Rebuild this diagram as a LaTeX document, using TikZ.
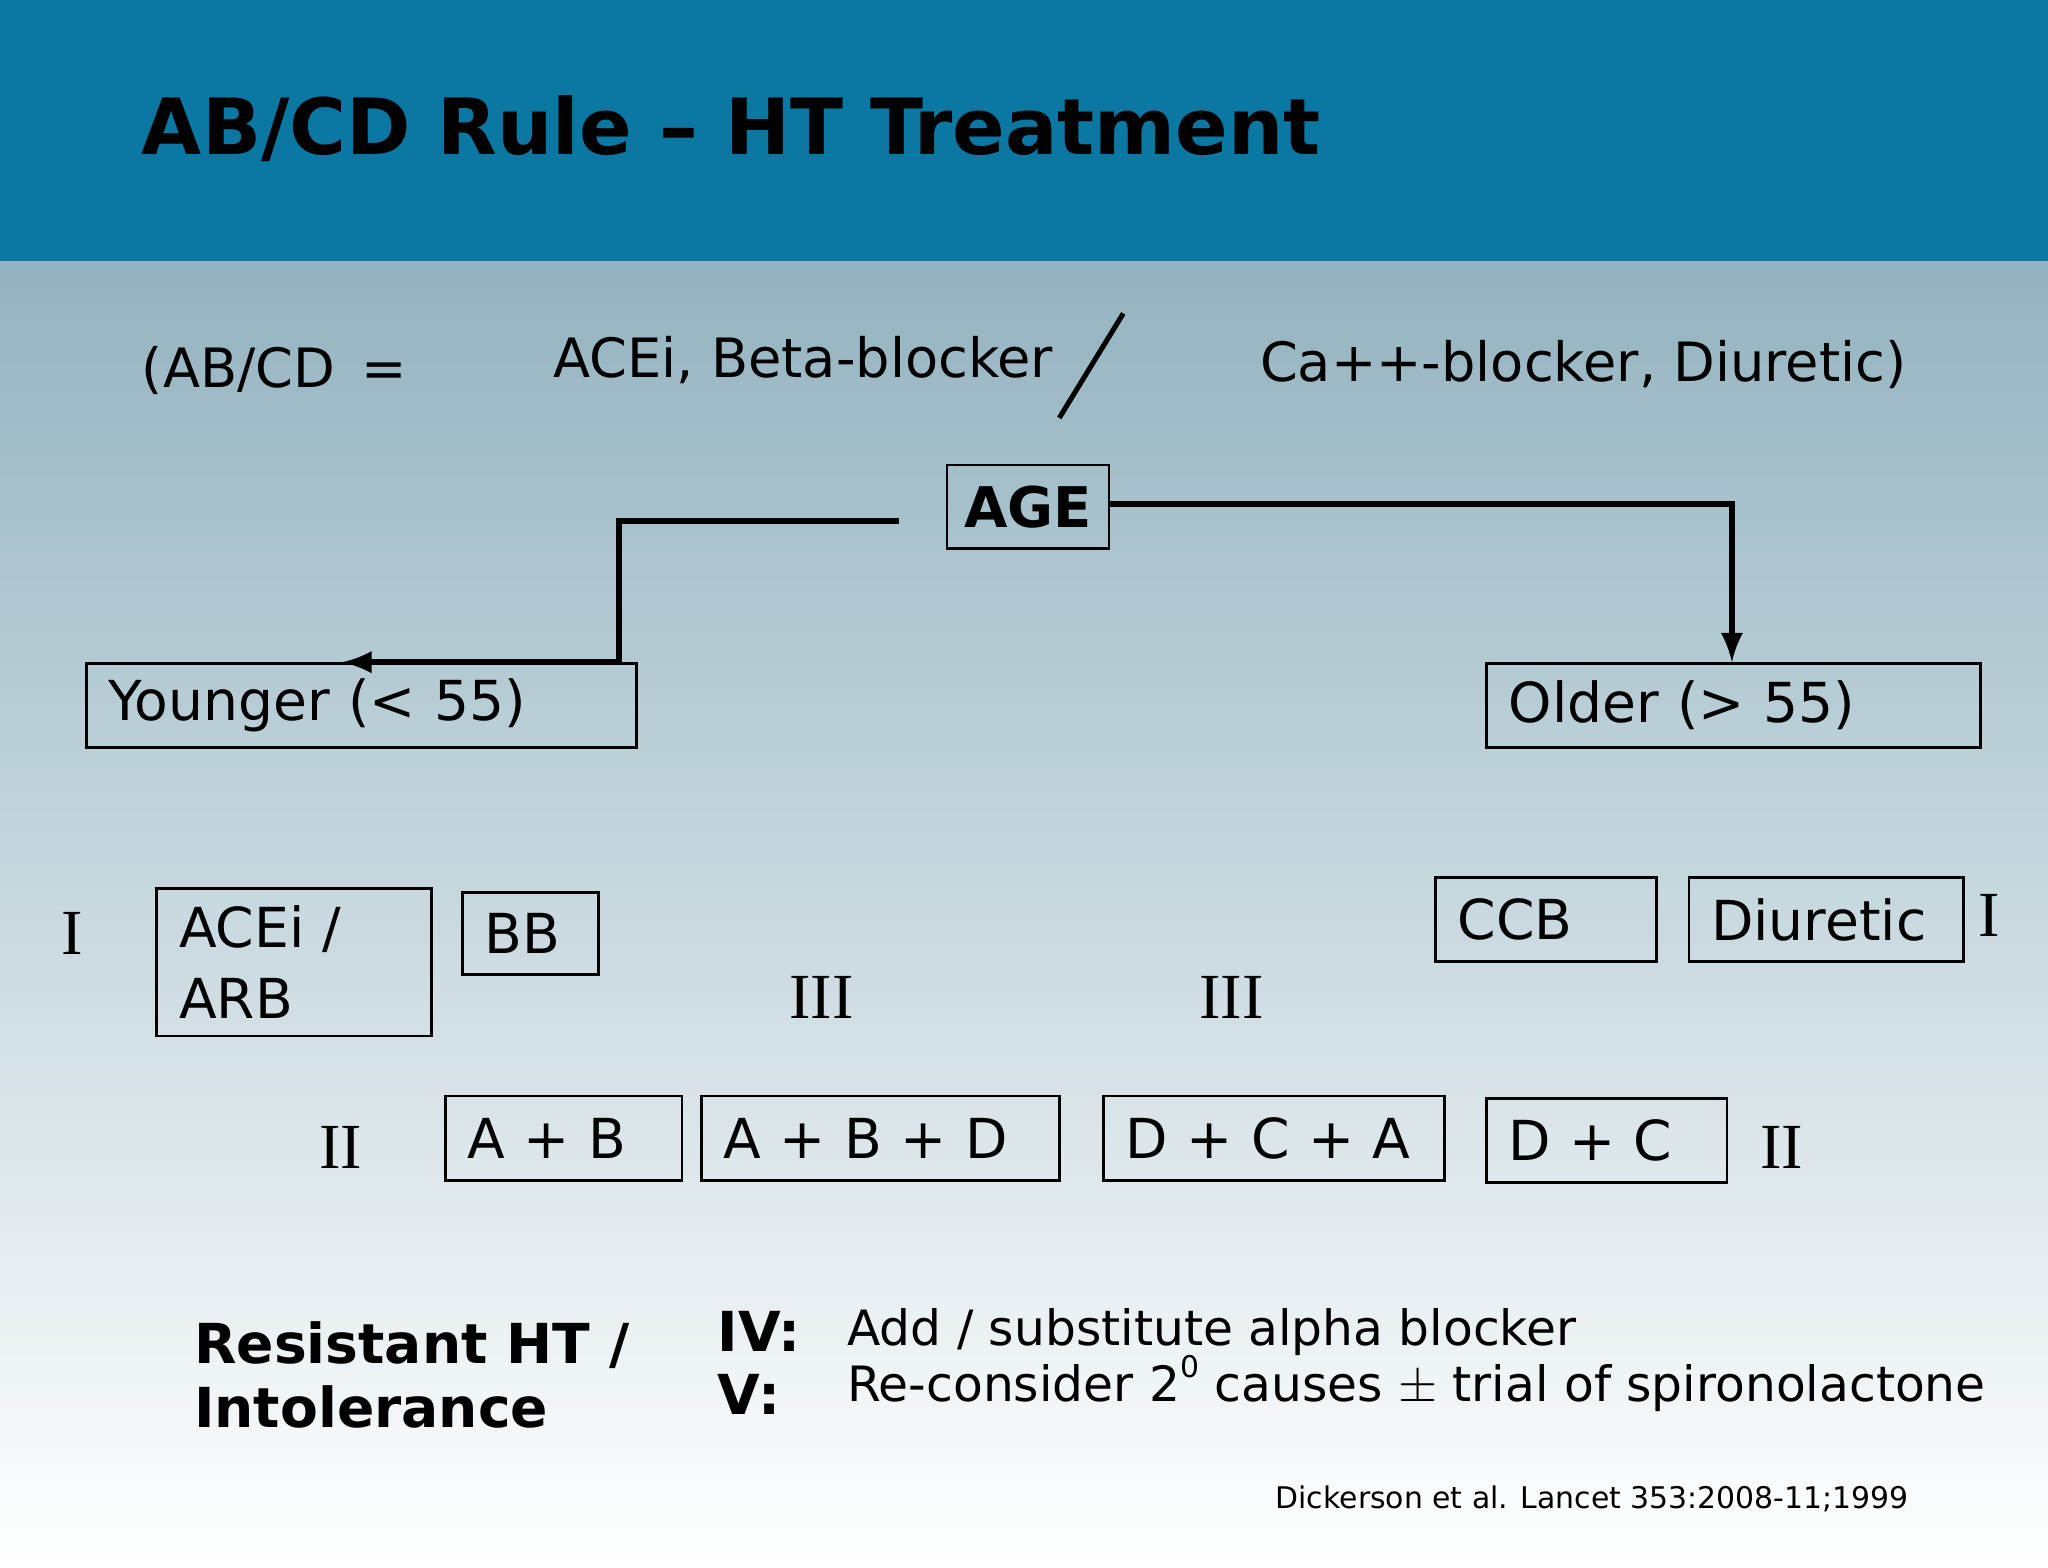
\documentclass[tikz,border=0pt]{standalone}
\usepackage{fontspec}
\setmainfont{DejaVu Sans}
\newfontfamily\numfont{Liberation Serif}
\usetikzlibrary{positioning}
\definecolor{bandblue}{HTML}{0B78A3}
\definecolor{paleblue}{HTML}{93B3C0}

\begin{document}
\begin{tikzpicture}[
	x=0.01cm, y=-0.01cm,
	box/.style = {draw, line width=0.6pt, anchor=north west, inner sep=0pt, align=left,
		font=\fontsize{12}{14}\selectfont},
	txt/.style = {anchor=base west, inner sep=0pt, font=\fontsize{12.2}{14}\selectfont},
	num/.style = {anchor=base, inner sep=0pt, font=\numfont\fontsize{14}{16}\selectfont},
	conn/.style = {line width=1.2pt, -latex}
]
% background
\useasboundingbox (0,0) rectangle (1568,1200);
\shade[top color=paleblue, bottom color=white] (0,200) rectangle (1568,1200);
\fill[bandblue] (0,0) rectangle (1568,200);
\node[anchor=base west, inner sep=0pt, font=\bfseries\fontsize{16.9}{19}\selectfont] (title) at (108,118) {AB/CD Rule -- HT Treatment};

% legend line
\node[txt, font=\fontsize{11.8}{14}\selectfont] (abcd) at (108,297) {(AB/CD\, =};
\node[txt, font=\fontsize{11.8}{14}\selectfont] (ab) at (423,289) {ACEi, Beta-blocker};
\node[txt, font=\fontsize{11.8}{14}\selectfont] (cd) at (964,292) {Ca++-blocker, Diuretic)};
\coordinate (slashtop) at (860,240);
\coordinate (slashbot) at (811,320);
\draw[line width=1.1pt] (slashtop) -- (slashbot);

% boxes
\node[box, minimum width=1.24cm, minimum height=0.64cm, align=center, font=\bfseries\fontsize{12.2}{14}\selectfont] (age) at (724,355) {AGE};
\node[box, minimum width=4.21cm, minimum height=0.64cm, text width=3.87cm] (young) at (65,507) {Younger (< 55)};
\node[box, minimum width=3.78cm, minimum height=0.64cm, text width=3.44cm] (old) at (1137,507) {Older (> 55)};
\node[box, minimum width=2.10cm, minimum height=1.13cm, text width=1.76cm, font=\fontsize{12}{15.5}\selectfont] (acei) at (119,679) {ACEi /\\ARB};
\node[box, minimum width=1.04cm, minimum height=0.63cm, text width=0.70cm] (bb) at (353,682) {BB};
\node[box, minimum width=1.69cm, minimum height=0.64cm, text width=1.35cm] (ccb) at (1098,671) {CCB};
\node[box, minimum width=2.10cm, minimum height=0.64cm, text width=1.76cm] (diur) at (1292,671) {Diuretic};
\node[box, minimum width=1.81cm, minimum height=0.65cm, text width=1.47cm] (apb) at (340,838) {A + B};
\node[box, minimum width=2.74cm, minimum height=0.65cm, text width=2.40cm] (apbpd) at (536,838) {A + B + D};
\node[box, minimum width=2.61cm, minimum height=0.65cm, text width=2.27cm] (dpcpa) at (844,838) {D + C + A};
\node[box, minimum width=1.84cm, minimum height=0.64cm, text width=1.50cm] (dpc) at (1137,840) {D + C};

% connectors
\coordinate (leftstart) at (688,399);
\coordinate (youngtip) at (262,507);
\coordinate (oldtip) at (1326,507);
\draw[conn] (leftstart) -- (474,399) -- (474,507) -- (youngtip);
\draw[conn] (age.east |- 0,386) -- (1326,386) -- (oldtip);

% steps
\node[num] (i1) at (55,731) {I};
\node[num] (i2) at (1523,717) {I};
\node[num] (iii1) at (629,780) {III};
\node[num] (iii2) at (943,780) {III};
\node[num] (ii1) at (261,895) {II};
\node[num] (ii2) at (1364,895) {II};

% resistant
\node[txt, font=\bfseries\fontsize{12}{14}\selectfont] (res1) at (148,1044) {Resistant HT /};
\node[txt, font=\bfseries\fontsize{12}{14}\selectfont] (res2) at (148,1093) {Intolerance};
\node[txt, font=\bfseries\fontsize{12}{14}\selectfont] (iv) at (549,1035) {IV:};
\node[txt, font=\bfseries\fontsize{12}{14}\selectfont] (v) at (549,1083) {V:};
\node[txt, font=\fontsize{10.6}{13}\selectfont] (ivtext) at (648,1030) {Add / substitute alpha blocker};
\node[txt, font=\fontsize{10.6}{13}\selectfont] (vtext) at (648,1073) {Re-consider 2\raisebox{0.9ex}{\fontsize{6.5}{8}\selectfont 0} causes $\pm$ trial of spironolactone};
\node[anchor=base west, inner sep=0pt, font=\fontsize{6.5}{8}\selectfont] (ref) at (976,1155) {Dickerson et al. Lancet 353:2008-11;1999};
\end{tikzpicture}
\end{document}
